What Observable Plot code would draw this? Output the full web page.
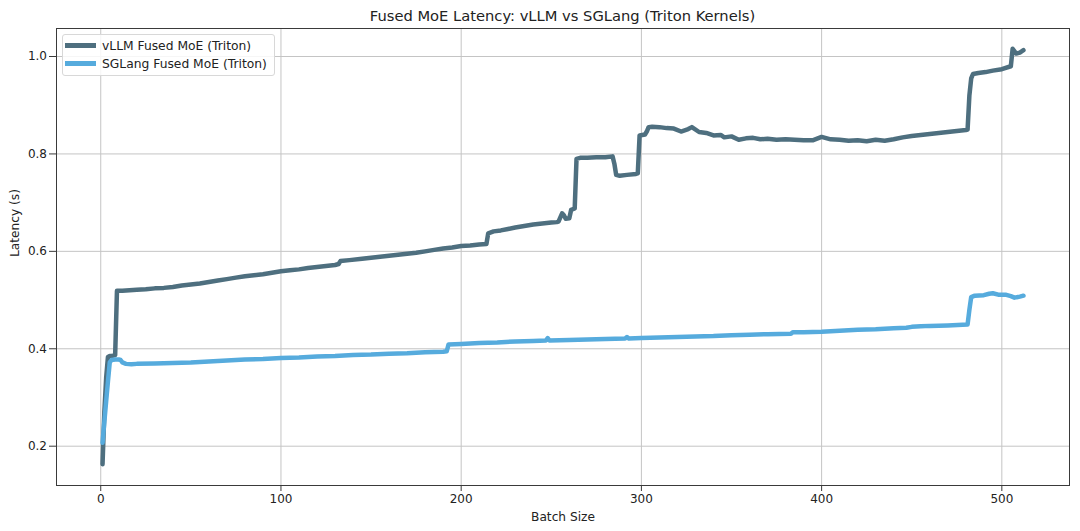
<!DOCTYPE html>
<html>
<head>
<meta charset="utf-8">
<script src="https://cdn.jsdelivr.net/npm/d3@7"></script>
<script src="https://cdn.jsdelivr.net/npm/@observablehq/plot@0.6"></script>
<style>
  html, body { margin: 0; padding: 0; background: #fff; }
  body { width: 1080px; height: 531px; position: relative; overflow: hidden; font-family: "DejaVu Sans", sans-serif; color: #222; }
  #title { height: 28px; box-sizing: border-box; padding: 6px 11px 0 56px; text-align: center; font-size: 14.7px; line-height: 20px; white-space: nowrap; }
  #legend { position: absolute; left: 62px; top: 34px; width: 213px; height: 42px; box-sizing: border-box; border: 1px solid #d8d8d8; border-radius: 3px; background: rgba(255,255,255,0.85); font-size: 12.3px; }
  #legend .row { position: absolute; left: 0; height: 16px; line-height: 16px; }
  #legend .key { position: absolute; left: 2px; top: 5px; width: 31px; height: 5px; }
  #legend .lab { position: absolute; left: 39px; top: 0; white-space: nowrap; }
</style>
</head>
<body>
<div id="title">Fused MoE Latency: vLLM vs SGLang (Triton Kernels)</div>
<div id="chart"></div>
<div id="legend"></div>
<script>
// ---- data ----
const seriesNames = ["vLLM Fused MoE (Triton)", "SGLang Fused MoE (Triton)"];
const seriesColors = ["#4e6f7f", "#56abdd"];

const vllmBatch = [1,2,3,4,5,6,7,8,9,12,16,20,25,30,35,40,45,50,55,60,65,70,75,80,85,90,95,100,105,110,115,120,125,130,132,133,138,145,150,155,160,165,170,175,180,185,190,195,200,205,210,214,215,218,222,226,230,235,240,245,250,253,254,256,257,258,260,261,263,264,266,270,275,280,284,285,286,288,292,297,298,299,302,303,304,306,310,314,318,322,326,328,332,336,340,344,346,350,354,358,362,366,370,375,380,385,390,395,400,402,405,410,415,420,425,430,435,440,445,450,455,460,465,470,475,480,481,482,483,484,487,491,495,500,505,506,508,510,512];
const vllmLatency = [0.163,0.27,0.34,0.383,0.385,0.385,0.386,0.387,0.519,0.519,0.520,0.521,0.522,0.524,0.525,0.527,0.530,0.532,0.534,0.537,0.540,0.543,0.546,0.549,0.551,0.553,0.556,0.559,0.561,0.563,0.566,0.568,0.570,0.572,0.574,0.580,0.582,0.585,0.587,0.589,0.591,0.593,0.595,0.597,0.600,0.603,0.606,0.608,0.611,0.612,0.614,0.615,0.637,0.641,0.643,0.646,0.649,0.652,0.655,0.657,0.659,0.660,0.661,0.678,0.674,0.667,0.668,0.685,0.688,0.790,0.792,0.792,0.793,0.793,0.795,0.780,0.757,0.755,0.757,0.759,0.760,0.838,0.840,0.846,0.855,0.856,0.855,0.853,0.852,0.846,0.851,0.855,0.845,0.843,0.838,0.839,0.834,0.836,0.829,0.832,0.833,0.830,0.831,0.829,0.830,0.829,0.828,0.828,0.835,0.833,0.830,0.829,0.827,0.828,0.826,0.829,0.827,0.830,0.834,0.837,0.839,0.841,0.843,0.845,0.847,0.849,0.850,0.920,0.955,0.964,0.966,0.968,0.971,0.974,0.980,1.016,1.006,1.008,1.013];

const sglangBatch = [1,2,3,4,5,6,8,10,11,12,14,17,20,30,40,50,60,70,80,90,100,110,120,130,140,150,160,170,180,190,192,193,200,210,220,230,240,247,248,249,260,270,280,291,292,293,300,310,320,330,340,350,360,370,383,384,390,400,410,420,430,440,447,450,455,460,470,481,482,483,485,490,493,495,498,502,505,507,510,512];
const sglangLatency = [0.207,0.250,0.292,0.333,0.372,0.377,0.378,0.378,0.377,0.372,0.369,0.368,0.369,0.370,0.371,0.372,0.374,0.376,0.378,0.379,0.381,0.382,0.384,0.385,0.387,0.388,0.390,0.391,0.393,0.394,0.395,0.409,0.410,0.412,0.413,0.415,0.416,0.417,0.422,0.417,0.418,0.419,0.420,0.421,0.424,0.421,0.422,0.423,0.424,0.425,0.426,0.428,0.429,0.430,0.431,0.434,0.434,0.435,0.437,0.439,0.440,0.442,0.443,0.445,0.446,0.447,0.448,0.450,0.480,0.506,0.509,0.510,0.513,0.514,0.511,0.511,0.508,0.505,0.507,0.509];

const xTicks = [0, 100, 200, 300, 400, 500];
const yTicks = [0.2, 0.4, 0.6, 0.8, 1.0];
const xLabel = "Batch Size";
const yLabel = "Latency (s)";

// ---- build tables ----
const vllm = vllmBatch.map((b, i) => ({batch: b, latency: vllmLatency[i]}));
const sglang = sglangBatch.map((b, i) => ({batch: b, latency: sglangLatency[i]}));

const chart = Plot.plot({
  width: 1080,
  height: 503,
  marginTop: 0,
  marginRight: 11,
  marginBottom: 46,
  marginLeft: 56,
  style: {fontFamily: "DejaVu Sans, sans-serif", fontSize: "12px", color: "#222", background: "white", overflow: "visible"},
  x: {domain: [-24.55, 537.55], label: null},
  y: {domain: [0.1193, 1.0575], label: null},
  marks: [
    Plot.gridX(xTicks, {stroke: "#c4c4c4", strokeOpacity: 1, strokeWidth: 1}),
    Plot.gridY(yTicks, {stroke: "#c4c4c4", strokeOpacity: 1, strokeWidth: 1}),
    Plot.line(vllm, {x: "batch", y: "latency", stroke: seriesColors[0], strokeWidth: 4.5, strokeLinejoin: "round"}),
    Plot.line(sglang, {x: "batch", y: "latency", stroke: seriesColors[1], strokeWidth: 4.5, strokeLinejoin: "round"}),
    Plot.frame({stroke: "#3a3a3a", strokeWidth: 1}),
    Plot.axisX(xTicks, {tickSize: 6, tickPadding: 3, stroke: "#3a3a3a", fill: "#222", fontSize: 12, label: null, tickFormat: d => String(d)}),
    Plot.axisY(yTicks, {tickSize: 7, tickPadding: 2.5, stroke: "#3a3a3a", fill: "#222", fontSize: 12, label: null, tickFormat: d3.format(".1f")}),
    Plot.text([xLabel], {frameAnchor: "bottom", text: d => d, dy: 32, fontSize: 12.2, fill: "#222", lineAnchor: "middle"}),
    Plot.text([yLabel], {frameAnchor: "left", text: d => d, dx: -41.5, rotate: -90, fontSize: 12.2, fill: "#222", lineAnchor: "middle"})
  ]
});
document.getElementById("chart").appendChild(chart);

// legend
const legend = document.getElementById("legend");
seriesNames.forEach((name, i) => {
  const row = document.createElement("div");
  row.className = "row";
  row.style.top = (3 + i * 18) + "px";
  row.style.width = "100%";
  const key = document.createElement("div");
  key.className = "key";
  key.style.background = seriesColors[i];
  const lab = document.createElement("div");
  lab.className = "lab";
  lab.textContent = name;
  row.appendChild(key);
  row.appendChild(lab);
  legend.appendChild(row);
});
</script>
</body>
</html>
